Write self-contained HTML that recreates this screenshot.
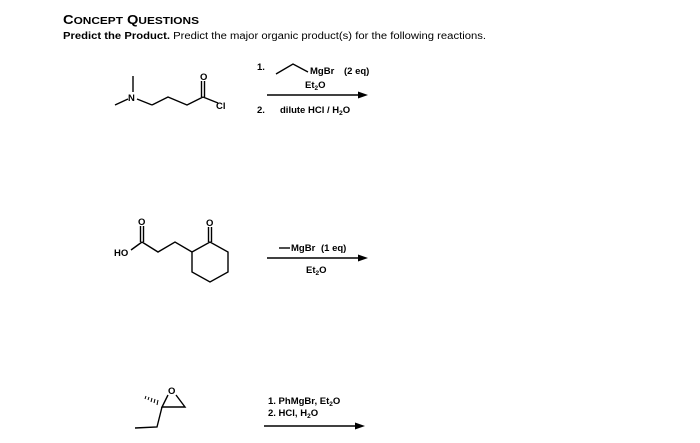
<!DOCTYPE html>
<html><head><meta charset="utf-8"><style>
html,body{margin:0;padding:0;background:#fff;}
svg{display:block;}
text{font-family:"Liberation Sans",sans-serif;fill:#000;}
</style></head><body>
<svg width="700" height="443" viewBox="0 0 700 443" xmlns="http://www.w3.org/2000/svg">
<text x="63" y="24" font-size="13" font-weight="bold" textLength="136" lengthAdjust="spacingAndGlyphs">C<tspan font-size="10.5">ONCEPT</tspan> Q<tspan font-size="10.5">UESTIONS</tspan></text>
<text x="63" y="39" font-size="10" textLength="423" lengthAdjust="spacingAndGlyphs"><tspan font-weight="bold">Predict the Product.</tspan> Predict the major organic product(s) for the following reactions.</text>

<g stroke="#000" stroke-width="1.4" fill="none">
<line x1="133" y1="76" x2="133" y2="92"/>
<line x1="115" y1="105" x2="128" y2="99"/>
<line x1="137" y1="99" x2="152" y2="105"/>
<polyline points="152,105 168,97 187,105 203,97"/>
<line x1="203" y1="97" x2="218" y2="103"/>
<line x1="201.5" y1="97" x2="201.5" y2="81"/>
<line x1="204.5" y1="97" x2="204.5" y2="81"/>
<line x1="267" y1="95" x2="362" y2="95"/>
<polyline points="276,74 293,64 308,72"/>
<line x1="131" y1="250" x2="142" y2="242"/>
<line x1="140.5" y1="242" x2="140.5" y2="226"/>
<line x1="143.5" y1="242" x2="143.5" y2="226"/>
<polyline points="142,242 158,252 175,242 192,252"/>
<polygon points="192,252 210,242 228,252 228,272 210,282 192,272"/>
<line x1="208.5" y1="242" x2="208.5" y2="227"/>
<line x1="211.5" y1="242" x2="211.5" y2="227"/>
<line x1="267" y1="258" x2="362" y2="258"/>
<line x1="279" y1="248" x2="290" y2="248"/>
<polyline points="168,395 162,407 185,407 176,395"/>
<polyline points="162,407 157,427 135,428"/>
<line x1="264" y1="426" x2="359" y2="426"/>
</g>
<g stroke="#000" stroke-width="1">
<line x1="146" y1="396" x2="145" y2="399"/>
<line x1="149" y1="397" x2="148" y2="400"/>
<line x1="152" y1="398" x2="151" y2="402"/>
<line x1="155" y1="399" x2="154" y2="403"/>
<line x1="158" y1="400" x2="157" y2="405"/>
</g>
<polygon points="368,95 358,91.5 358,98.5" fill="#000"/>
<polygon points="368,258 358,254.5 358,261.5" fill="#000"/>
<polygon points="365,426 355,422.5 355,429.5" fill="#000"/>

<g font-size="9.5" font-weight="bold">
<text x="128" y="101">N</text>
<text x="200" y="80">O</text>
<text x="216" y="109">Cl</text>
<text x="257" y="70">1.</text>
<text x="310" y="74">MgBr</text>
<text x="344" y="74">(2 eq)</text>
<text x="305" y="88">Et<tspan font-size="6.5" dy="2">2</tspan><tspan dy="-2">O</tspan></text>
<text x="257" y="113">2.</text>
<text x="280" y="113">dilute HCl / H<tspan font-size="6.5" dy="2">2</tspan><tspan dy="-2">O</tspan></text>
<text x="114" y="256">HO</text>
<text x="138" y="225">O</text>
<text x="206" y="226">O</text>
<text x="291" y="251">MgBr</text>
<text x="321" y="251">(1 eq)</text>
<text x="306" y="273">Et<tspan font-size="6.5" dy="2">2</tspan><tspan dy="-2">O</tspan></text>
<text x="168" y="394">O</text>
<text x="268" y="404">1. PhMgBr, Et<tspan font-size="6.5" dy="2">2</tspan><tspan dy="-2">O</tspan></text>
<text x="268" y="416">2. HCl, H<tspan font-size="6.5" dy="2">2</tspan><tspan dy="-2">O</tspan></text>
</g>
</svg>
</body></html>
